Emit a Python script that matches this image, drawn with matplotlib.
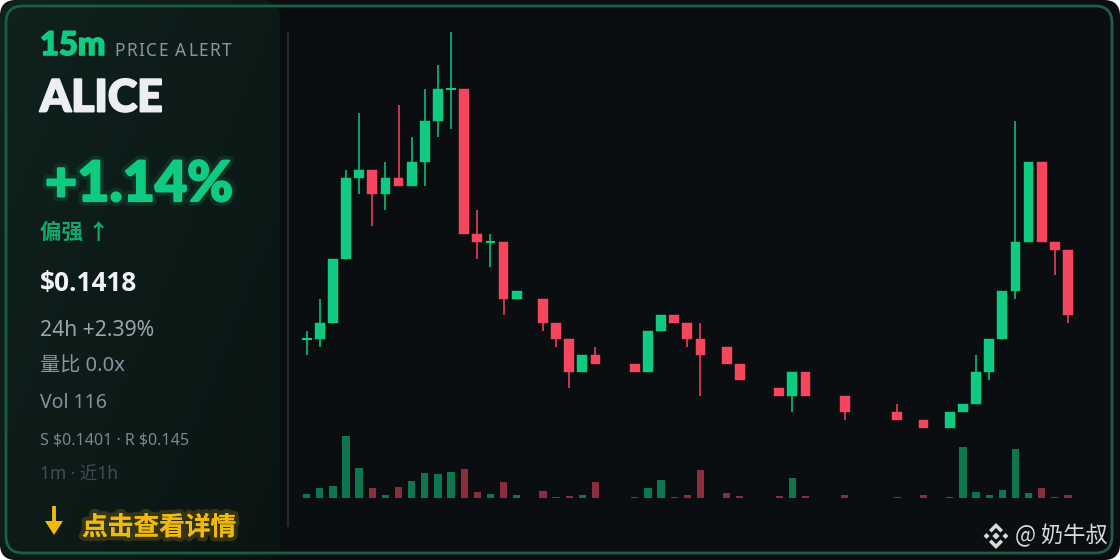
import numpy as np
import matplotlib
matplotlib.use("Agg")
import matplotlib.pyplot as plt
from matplotlib.patches import FancyBboxPatch, Polygon
from matplotlib.font_manager import FontProperties
import matplotlib.patheffects as pe

plt.rcParams["text.parse_math"] = False

# ---------------- data ----------------
slots  = [0, 1, 2, 3, 4, 5, 6, 7, 8, 9, 10, 11, 12, 13, 14, 15, 16,
          18, 19, 20, 21, 22, 25, 26, 27, 28, 29, 30, 32, 33,
          36, 37, 38, 41, 45, 47, 49, 50, 51, 52, 53, 54, 55, 56, 57, 58]
opens  = [0.1412, 0.1412, 0.1414, 0.1422, 0.1432, 0.1433, 0.1430, 0.1432, 0.1431, 0.1434,
          0.1439, 0.1443, 0.1443, 0.1425, 0.1424, 0.1424, 0.1417,
          0.1417, 0.1414, 0.1412, 0.1408, 0.1410, 0.1409, 0.1408, 0.1413, 0.1415, 0.1414,
          0.1412, 0.1411, 0.1409,
          0.1406, 0.1405, 0.1408, 0.1405, 0.1403, 0.1402, 0.1401, 0.1403, 0.1404, 0.1408,
          0.1412, 0.1418, 0.1424, 0.1434, 0.1424, 0.1423]
highs  = [0.1413, 0.1417, 0.1422, 0.1433, 0.1440, 0.1433, 0.1434, 0.1441, 0.1437, 0.1443,
          0.1446, 0.1450, 0.1443, 0.1428, 0.1425, 0.1424, 0.1418,
          0.1417, 0.1414, 0.1412, 0.1410, 0.1411, 0.1409, 0.1413, 0.1415, 0.1415, 0.1414,
          0.1414, 0.1411, 0.1409,
          0.1406, 0.1408, 0.1408, 0.1405, 0.1404, 0.1402, 0.1403, 0.1404, 0.1410, 0.1412,
          0.1418, 0.1439, 0.1434, 0.1434, 0.1424, 0.1423]
lows   = [0.1410, 0.1411, 0.1414, 0.1422, 0.1430, 0.1426, 0.1428, 0.1431, 0.1431, 0.1431,
          0.1437, 0.1438, 0.1425, 0.1422, 0.1421, 0.1415, 0.1417,
          0.1413, 0.1411, 0.1406, 0.1408, 0.1409, 0.1408, 0.1408, 0.1413, 0.1414, 0.1411,
          0.1405, 0.1409, 0.1407,
          0.1405, 0.1403, 0.1405, 0.1402, 0.1402, 0.1401, 0.1401, 0.1403, 0.1404, 0.1407,
          0.1412, 0.1417, 0.1424, 0.1424, 0.1420, 0.1414]
closes = [0.1412, 0.1414, 0.1422, 0.1432, 0.1433, 0.1430, 0.1432, 0.1431, 0.1434, 0.1439,
          0.1443, 0.1443, 0.1425, 0.1424, 0.1424, 0.1417, 0.1418,
          0.1414, 0.1412, 0.1408, 0.1410, 0.1409, 0.1408, 0.1413, 0.1415, 0.1414, 0.1412,
          0.1410, 0.1409, 0.1407,
          0.1405, 0.1408, 0.1405, 0.1403, 0.1402, 0.1401, 0.1403, 0.1404, 0.1408, 0.1412,
          0.1418, 0.1424, 0.1434, 0.1424, 0.1423, 0.1415]
volumes = [172, 400, 503, 2653, 1290, 430, 116, 460, 731, 1062, 1019, 1105, 1247, 245, 159, 658, 129,
           271, 43, 56, 116, 688, 43, 417, 761, 43, 116, 1191, 215, 86,
           73, 830, 86, 99, 43, 116, 43, 2163, 245, 99, 331, 2077, 202, 430, 43, 116]

symbol = "ALICE"
timeframe = "15m"
alert_txt = "PRICE ALERT"
change_txt = "+1.14%"
bias_txt = "偏强 ↑"
price_txt = "$0.1418"
stats_lines = ["24h +2.39%", "量比 0.0x", "Vol 116", "S $0.1401 · R $0.145", "1m · 近1h"]
cta_txt = "点击查看详情"
watermark = "@ 奶牛叔"

# ---------------- colors ----------------
GREEN = "#0ecb81"
RED = "#f6465d"
VGREEN = "#0c774f"
VRED = "#8b2d3b"
BG = "#0b0e11"
YELLOW = "#f0b90b"

W, H = 1120, 560
fig = plt.figure(figsize=(W / 100, H / 100), dpi=100, facecolor="white")

bg = fig.add_axes([0, 0, 1, 1])
bg.set_xlim(0, W)
bg.set_ylim(H, 0)
bg.axis("off")

card = FancyBboxPatch((0, 0), W, H, boxstyle="round,pad=0,rounding_size=16",
                      fc=BG, ec="none", zorder=0)
bg.add_patch(card)

panel = FancyBboxPatch((0, 0), 280, H, boxstyle="round,pad=0,rounding_size=20",
                       fc="#0c1816", ec="none", zorder=1)
bg.add_patch(panel)
gx = np.linspace(0, 1, 200)
gy = np.linspace(0, 1, 400)
GX, GY = np.meshgrid(gx, gy)
t = np.clip(0.55 * GX + 0.45 * GY, 0, 1)
c0 = np.array([0x10, 0x22, 0x1e]) / 255
c1 = np.array([0x0a, 0x14, 0x13]) / 255
img = c0[None, None, :] * (1 - t[..., None]) + c1[None, None, :] * t[..., None]
im = bg.imshow(img, extent=[0, 280, H, 0], zorder=2, aspect="auto")
im.set_clip_path(panel)

border = FancyBboxPatch((6, 6), 1106, 547, boxstyle="round,pad=0,rounding_size=17",
                        fc="none", ec="#1b5e43", lw=2.0, zorder=3)
bg.add_patch(border)

bg.plot([287.5, 287.5], [32, 527], color="#262b33", lw=1.5, zorder=3, solid_capstyle="butt")

HEAVY = ["Lato", "DejaVu Sans"]
SANS = ["Noto Sans", "Noto Sans CJK SC"]
CJK = ["Noto Sans CJK SC", "DejaVu Sans"]


def thick(color, w):
    return [pe.withStroke(linewidth=w, foreground=color)]


bg.text(40, 55, timeframe, color=GREEN, fontsize=23.5, fontweight="black",
        family=HEAVY, va="baseline", ha="left", zorder=5, path_effects=thick(GREEN, 1.2))

# letter-spaced "PRICE ALERT"
renderer = fig.canvas.get_renderer()
fp = FontProperties(family=SANS, size=12.5)
spacing = 1.5
wI, _, _ = renderer.get_text_width_height_descent("I", fp, ismath=False)
for i, ch in enumerate(alert_txt):
    pre = alert_txt[:i]
    if pre:
        wpx, _, _ = renderer.get_text_width_height_descent(pre + "I", fp, ismath=False)
        wpx -= wI
    else:
        wpx = 0
    bg.text(114 + wpx + i * spacing, 55.5, ch, color="#8b95a1", fontproperties=fp,
            va="baseline", ha="left", zorder=5)

bg.text(40, 111.5, symbol, color="#eceef3", fontsize=32, fontweight="black",
        family=HEAVY, va="baseline", ha="left", zorder=5, path_effects=thick("#eceef3", 1.4))
bg.text(45, 201, change_txt, color=GREEN, fontsize=40, fontweight="black",
        family=HEAVY, va="baseline", ha="left", zorder=5,
        path_effects=[pe.withStroke(linewidth=7, foreground=(0.05, 0.8, 0.5, 0.12)),
                      pe.withStroke(linewidth=1.6, foreground=GREEN)])
bg.text(40, 239, bias_txt, color="#13a76c", fontsize=15.5, fontweight="bold",
        family=CJK, va="baseline", ha="left", zorder=5)
bg.text(40, 291, price_txt, color="#f0f2f5", fontsize=18.8, fontweight="bold",
        family=["Open Sans", "DejaVu Sans"], va="baseline", ha="left", zorder=5)

stat_y = [335.5, 371.5, 407.5, 444, 480]
stat_fs = [15.2, 14.5, 14, 11.5, 12.5]
stat_col = ["#9aa3ae", "#8a94a0", "#8691a0", "#7c8693", "#3f4b5c"]
for s, yy, fs, col in zip(stats_lines, stat_y, stat_fs, stat_col):
    bg.text(40, yy, s, color=col, fontsize=fs, family=SANS, va="baseline",
            ha="left", zorder=5)

# yellow arrow
glow = [pe.withStroke(linewidth=6, foreground=(0.94, 0.73, 0.04, 0.18))]
bg.plot([54, 54], [506, 524], color=YELLOW, lw=2.8, zorder=5, solid_capstyle="butt")
arrow = Polygon([[45, 521], [63, 521], [54, 535]], closed=True, fc=YELLOW, ec="none", zorder=5)
bg.add_patch(arrow)
bg.text(82, 535, cta_txt, color=YELLOW, fontsize=18.5, fontweight="bold",
        family=CJK, va="baseline", ha="left", zorder=5, path_effects=glow)

# watermark with logo
lc = "#d9d9d9"
cx, cy = 996, 536


def diamond(xc, yc, r):
    return Polygon([[xc, yc - r], [xc + r, yc], [xc, yc + r], [xc - r, yc]], closed=True,
                   fc=lc, ec="none", zorder=5)


bg.add_patch(diamond(cx, cy, 3.6))
bg.add_patch(diamond(cx - 9.5, cy, 3.0))
bg.add_patch(diamond(cx + 9.5, cy, 3.0))
top = Polygon([[cx, cy - 13], [cx + 7, cy - 6], [cx + 4.5, cy - 3.5], [cx, cy - 8],
               [cx - 4.5, cy - 3.5], [cx - 7, cy - 6]], closed=True, fc=lc, ec="none", zorder=5)
bot = Polygon([[cx, cy + 13], [cx + 7, cy + 6], [cx + 4.5, cy + 3.5], [cx, cy + 8],
               [cx - 4.5, cy + 3.5], [cx - 7, cy + 6]], closed=True, fc=lc, ec="none", zorder=5)
bg.add_patch(top)
bg.add_patch(bot)
bg.text(1015, 536, watermark, color=lc, fontsize=16, family=CJK, va="center",
        ha="left", zorder=5)

# ---------------- candles ----------------
ax = fig.add_axes([290 / W, 1 - 440 / H, 800 / W, 420 / H])
ax.set_facecolor("none")
ax.axis("off")
ax.set_xlim(-1.270, 59.68)
ax.set_ylim(0.139954, 0.145152)

x = np.array(slots, dtype=float)
o = np.array(opens); c = np.array(closes); h = np.array(highs); l = np.array(lows)
up = c >= o
cols = np.where(up, GREEN, RED)
ax.vlines(x, l, h, colors=cols, lw=1.1, zorder=2)
body_lo = np.minimum(o, c)
body_hi = np.maximum(o, c)
nz = body_hi > body_lo
ax.bar(x[nz], (body_hi - body_lo)[nz], bottom=body_lo[nz], width=0.74,
       color=cols[nz], edgecolor=cols[nz], lw=0.3, zorder=3)
dj = ~nz
ax.hlines(o[dj], x[dj] - 0.37, x[dj] + 0.37, colors=cols[dj], lw=1.5, zorder=3)

# ---------------- volume ----------------
vax = fig.add_axes([290 / W, 1 - 497.7 / H, 800 / W, 67.7 / H])
vax.set_facecolor("none")
vax.axis("off")
vax.set_xlim(-1.270, 59.68)
vmax = max(volumes)
vax.set_ylim(0, vmax * 67.7 / 61.7)
vcols = np.where(up, VGREEN, VRED)
vax.bar(x, volumes, width=0.56, color=vcols, zorder=2)

fig.savefig("out.png", dpi=100, facecolor=fig.get_facecolor())
